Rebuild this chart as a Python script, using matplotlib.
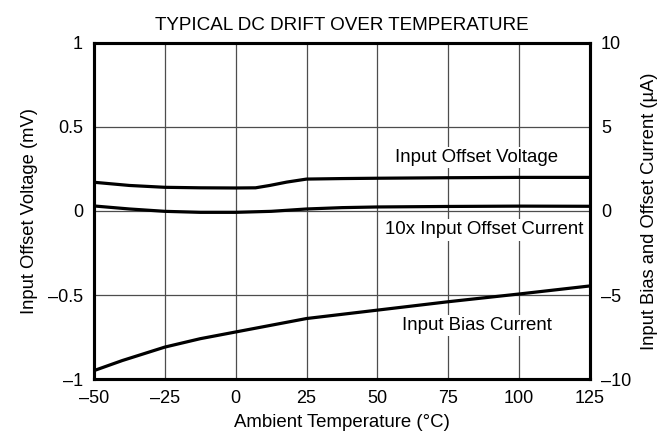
import numpy as np
import matplotlib

matplotlib.use("Agg")
import matplotlib.pyplot as plt
from matplotlib.ticker import FixedLocator, FixedFormatter

# Ambient temperature sample points (°C)
temp_vos = [-50, -37.5, -25, -12.5, 0, 7, 12, 18, 25, 37.5, 50, 75, 100, 125]
# Input offset voltage (mV), left axis
vos_mv = [0.171, 0.152, 0.141, 0.138, 0.137, 0.138, 0.152, 0.172, 0.190, 0.193, 0.195, 0.198, 0.200, 0.200]

temp_ios = [-50, -37.5, -25, -12.5, 0, 12.5, 25, 37.5, 50, 75, 100, 125]
# 10x input offset current (uA), right axis
ios_10x_ua = [0.30, 0.12, -0.02, -0.08, -0.08, -0.02, 0.12, 0.20, 0.24, 0.27, 0.29, 0.28]

temp_ib = [-50, -40, -25, -12.5, 0, 12.5, 25, 50, 75, 100, 125]
# Input bias current (uA), right axis
ib_ua = [-9.5, -8.9, -8.1, -7.6, -7.2, -6.8, -6.4, -5.9, -5.4, -4.94, -4.46]

xticks = [-50, -25, 0, 25, 50, 75, 100, 125]
xtick_labels = ["\u201350", "\u201325", "0", "25", "50", "75", "100", "125"]
left_ticks = [-1, -0.5, 0, 0.5, 1]
left_labels = ["\u20131", "\u20130.5", "0", "0.5", "1"]
right_ticks = [-10, -5, 0, 5, 10]
right_labels = ["\u201310", "\u20135", "0", "5", "10"]

plt.rcParams["font.family"] = ["Liberation Sans", "DejaVu Sans"]
plt.rcParams["font.size"] = 13

fig = plt.figure(figsize=(6.61, 4.45), dpi=100)
ax = fig.add_axes([0.1422, 0.1483, 0.7504, 0.7551])
ax2 = ax.twinx()

ax.set_xlim(-50, 125)
ax.set_ylim(-1, 1)
ax2.set_ylim(-10, 10)

ax.xaxis.set_major_locator(FixedLocator(xticks))
ax.xaxis.set_major_formatter(FixedFormatter(xtick_labels))
ax.yaxis.set_major_locator(FixedLocator(left_ticks))
ax.yaxis.set_major_formatter(FixedFormatter(left_labels))
ax2.yaxis.set_major_locator(FixedLocator(right_ticks))
ax2.yaxis.set_major_formatter(FixedFormatter(right_labels))

for a in (ax, ax2):
    a.tick_params(length=0, pad=8, labelsize=13)
    for s in a.spines.values():
        s.set_linewidth(2.2)

ax.grid(True, color="0.3", lw=0.9)
ax.set_axisbelow(True)

ax.plot(temp_vos, vos_mv, color="black", lw=2.3, zorder=3)
ax2.plot(temp_ios, ios_10x_ua, color="black", lw=2.3, zorder=3)
ax2.plot(temp_ib, ib_ua, color="black", lw=2.3, zorder=3)

box = dict(facecolor="white", edgecolor="none", pad=1.5)
ax.text(85, 0.32, "Input Offset Voltage", ha="center", va="center", fontsize=13.4, bbox=box, zorder=4)
ax.text(87.5, -0.113, "10x Input Offset Current", ha="center", va="center", fontsize=13.4, bbox=box, zorder=4)
ax.text(85, -0.68, "Input Bias Current", ha="center", va="center", fontsize=13.4, bbox=box, zorder=4)

ax.set_xlabel("Ambient Temperature (\u00b0C)", fontsize=13.4, labelpad=5)
ax.set_ylabel("Input Offset Voltage (mV)", fontsize=13.2, labelpad=7)
ax2.set_ylabel("Input Bias and Offset Current (\u00b5A)", fontsize=13.2, labelpad=7)
ax.set_title("TYPICAL DC DRIFT OVER TEMPERATURE", fontsize=13.6, pad=9)

fig.savefig("out.png", dpi=100)
